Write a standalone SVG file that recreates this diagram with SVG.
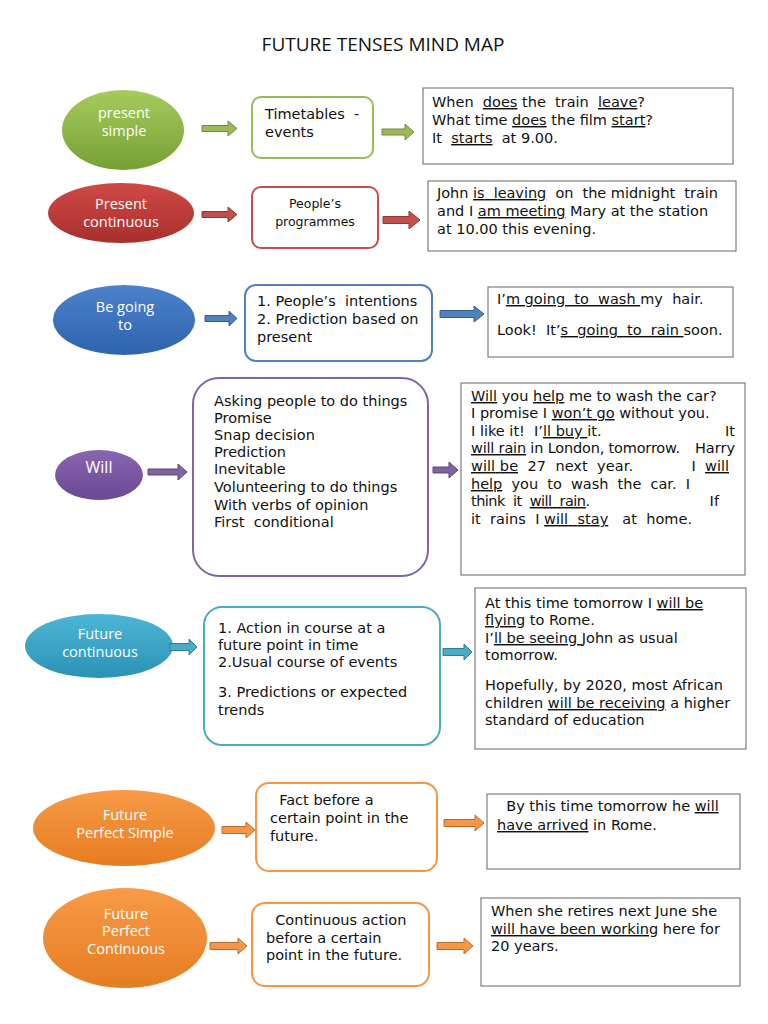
<svg xmlns="http://www.w3.org/2000/svg" width="768" height="1024" viewBox="0 0 768 1024">
<style>
.title{font-family:"Open Sans","Liberation Sans",sans-serif;font-size:19px;fill:#111}
.lab{font-family:"Open Sans","Liberation Sans",sans-serif;font-size:14.5px;fill:#fff}
.t{font-family:"DejaVu Sans","Liberation Sans",sans-serif;font-size:14.5px;fill:#111;white-space:pre}
.u{text-decoration:underline}
.box{fill:#fff;stroke-width:2}
.ex{fill:#fff;stroke:#666;stroke-width:1}
.ag{fill:#9bbb59;stroke:#71893f;stroke-width:1}
.ar{fill:#c0504d;stroke:#8c3836;stroke-width:1}
.ab{fill:#4f81bd;stroke:#385d8a;stroke-width:1}
.ap{fill:#8064a2;stroke:#5c4776;stroke-width:1}
.at{fill:#4bacc6;stroke:#357d91;stroke-width:1}
.ao{fill:#f79646;stroke:#b66d31;stroke-width:1}
</style>
<defs>
<linearGradient id="gG" x1="0" y1="0" x2="0" y2="1"><stop offset="0" stop-color="#a6cb5e"/><stop offset="1" stop-color="#76a034"/></linearGradient>
<linearGradient id="gR" x1="0" y1="0" x2="0" y2="1"><stop offset="0" stop-color="#cf4a46"/><stop offset="1" stop-color="#a82f2c"/></linearGradient>
<linearGradient id="gB" x1="0" y1="0" x2="0" y2="1"><stop offset="0" stop-color="#4c82cc"/><stop offset="1" stop-color="#2e64ad"/></linearGradient>
<linearGradient id="gP" x1="0" y1="0" x2="0" y2="1"><stop offset="0" stop-color="#8a64b0"/><stop offset="1" stop-color="#6a4a92"/></linearGradient>
<linearGradient id="gT" x1="0" y1="0" x2="0" y2="1"><stop offset="0" stop-color="#4db6d6"/><stop offset="1" stop-color="#2b92b6"/></linearGradient>
<linearGradient id="gO" x1="0" y1="0" x2="0" y2="1"><stop offset="0" stop-color="#f89a48"/><stop offset="1" stop-color="#e57d22"/></linearGradient>
</defs>
<rect width="768" height="1024" fill="#fff"/>
<text class="title" x="383" y="51" text-anchor="middle">FUTURE TENSES MIND MAP</text>

<!-- Row 1 -->
<g id="n-present-simple">
<ellipse cx="123" cy="130" rx="61" ry="40" fill="url(#gG)"/>
<text class="lab" x="124" y="118" text-anchor="middle">present</text>
<text class="lab" x="124" y="136" text-anchor="middle">simple</text>
</g>
<g id="n-timetables">
<rect class="box" x="252" y="97" width="121" height="61" rx="9" stroke="#9bbb59"/>
<text class="t" x="265" y="119">Timetables  -</text>
<text class="t" x="265" y="137">events</text>
</g>
<g id="n-ex1">
<rect class="ex" x="423" y="88" width="310" height="76"/>
<text class="t" x="432" y="107">When  <tspan class="u">does</tspan> the  train  <tspan class="u">leave</tspan>?</text>
<text class="t" x="432" y="125">What time <tspan class="u">does</tspan> the film <tspan class="u">start</tspan>?</text>
<text class="t" x="432" y="143">It  <tspan class="u">starts</tspan>  at 9.00.</text>
</g>

<!-- Row 2 -->
<g id="n-present-continuous">
<ellipse cx="121" cy="213" rx="73" ry="30" fill="url(#gR)"/>
<text class="lab" x="121" y="209" text-anchor="middle">Present</text>
<text class="lab" x="121" y="227" text-anchor="middle">continuous</text>
</g>
<g id="n-programmes">
<rect class="box" x="252" y="187" width="126" height="61" rx="9" stroke="#c0504d"/>
<text class="t" x="315" y="208" text-anchor="middle" style="font-size:12.5px">People’s</text>
<text class="t" x="315" y="226" text-anchor="middle" style="font-size:12.5px">programmes</text>
</g>
<g id="n-ex2">
<rect class="ex" x="428" y="181" width="308" height="70"/>
<text class="t" x="437" y="198" textLength="281" lengthAdjust="spacing">John <tspan class="u">is  leaving</tspan>  on  the midnight  train</text>
<text class="t" x="437" y="216">and I <tspan class="u">am meeting</tspan> Mary at the station</text>
<text class="t" x="437" y="234">at 10.00 this evening.</text>
</g>

<!-- Row 3 -->
<g id="n-be-going-to">
<ellipse cx="124" cy="320" rx="71" ry="35" fill="url(#gB)"/>
<text class="lab" x="125" y="312" text-anchor="middle">Be  going</text>
<text class="lab" x="125" y="330" text-anchor="middle">to</text>
</g>
<g id="n-intentions">
<rect class="box" x="245" y="285" width="187" height="76" rx="11" stroke="#4f81bd"/>
<text class="t" x="257" y="306">1. People’s  intentions</text>
<text class="t" x="257" y="324">2. Prediction based on</text>
<text class="t" x="257" y="342">present</text>
</g>
<g id="n-ex3">
<rect class="ex" x="488" y="287" width="245" height="70"/>
<text class="t" x="497" y="304">I’<tspan class="u">m going  to  wash </tspan>my  hair.</text>
<text class="t" x="497" y="335">Look!  It’<tspan class="u">s  going  to  rain </tspan>soon.</text>
</g>

<!-- Row 4 -->
<g id="n-will">
<ellipse cx="99" cy="475" rx="44" ry="25" fill="url(#gP)"/>
<text class="lab" x="99" y="473" text-anchor="middle" style="font-size:16px">Will</text>
</g>
<g id="n-will-uses">
<rect class="box" x="193" y="378" width="235" height="198" rx="26" stroke="#8064a2"/>
<text class="t" x="214" y="406">Asking people to do things</text>
<text class="t" x="214" y="423">Promise</text>
<text class="t" x="214" y="440">Snap decision</text>
<text class="t" x="214" y="457">Prediction</text>
<text class="t" x="214" y="474">Inevitable</text>
<text class="t" x="214" y="492">Volunteering to do things</text>
<text class="t" x="214" y="510">With verbs of opinion</text>
<text class="t" x="214" y="527">First  conditional</text>
</g>
<g id="n-ex4">
<rect class="ex" x="461" y="383" width="284" height="192"/>
<text class="t" x="471" y="401"><tspan class="u">Will</tspan> you <tspan class="u">help</tspan> me to wash the car?</text>
<text class="t" x="471" y="418">I promise I <tspan class="u">won’t go</tspan> without you.</text>
<text class="t" x="471" y="436">I like it!  I’<tspan class="u">ll buy </tspan>it.</text>
<text class="t" x="735" y="436" text-anchor="end">It</text>
<text class="t" x="471" y="453" textLength="209" lengthAdjust="spacing"><tspan class="u">will rain</tspan> in London, tomorrow.</text>
<text class="t" x="735" y="453" text-anchor="end">Harry</text>
<text class="t" x="471" y="471" textLength="162" lengthAdjust="spacing"><tspan class="u">will be</tspan>  27  next  year.</text>
<text class="t" x="729" y="471" text-anchor="end">I  <tspan class="u">will</tspan></text>
<text class="t" x="471" y="489" textLength="219" lengthAdjust="spacing"><tspan class="u">help</tspan>  you  to  wash  the  car.  I</text>
<text class="t" x="471" y="506" textLength="119" lengthAdjust="spacing">think  it  <tspan class="u">will  rain</tspan>.</text>
<text class="t" x="719" y="506" text-anchor="end">If</text>
<text class="t" x="471" y="524" textLength="221" lengthAdjust="spacing">it  rains  I <tspan class="u">will  stay</tspan>   at  home.</text>
</g>

<!-- Row 5 -->
<g id="n-future-continuous">
<ellipse cx="99" cy="646" rx="74" ry="32" fill="url(#gT)"/>
<text class="lab" x="100" y="639" text-anchor="middle">Future</text>
<text class="lab" x="100" y="657" text-anchor="middle">continuous</text>
</g>
<g id="n-fc-uses">
<rect class="box" x="204" y="607" width="236" height="138" rx="18" stroke="#4bacc6"/>
<text class="t" x="218" y="633">1. Action in course at a</text>
<text class="t" x="218" y="650">future point in time</text>
<text class="t" x="218" y="667">2.Usual course of events</text>
<text class="t" x="218" y="697">3. Predictions or expected</text>
<text class="t" x="218" y="715">trends</text>
</g>
<g id="n-ex5">
<rect class="ex" x="475" y="588" width="271" height="161"/>
<text class="t" x="485" y="608">At this time tomorrow I <tspan class="u">will be</tspan></text>
<text class="t" x="485" y="625"><tspan class="u">flying</tspan> to Rome.</text>
<text class="t" x="485" y="643">I’<tspan class="u">ll be seeing </tspan>John as usual</text>
<text class="t" x="485" y="660">tomorrow.</text>
<text class="t" x="485" y="690">Hopefully, by 2020, most African</text>
<text class="t" x="485" y="708">children <tspan class="u">will be receiving</tspan> a higher</text>
<text class="t" x="485" y="725">standard of education</text>
</g>

<!-- Row 6 -->
<g id="n-future-perfect-simple">
<ellipse cx="124" cy="828" rx="91" ry="38" fill="url(#gO)"/>
<text class="lab" x="125" y="820" text-anchor="middle">Future</text>
<text class="lab" x="125" y="838" text-anchor="middle">Perfect Simple</text>
</g>
<g id="n-fps-use">
<rect class="box" x="256" y="783" width="181" height="88" rx="13" stroke="#f79646"/>
<text class="t" x="270" y="805">  Fact before a</text>
<text class="t" x="270" y="823">certain point in the</text>
<text class="t" x="270" y="841">future.</text>
</g>
<g id="n-ex6">
<rect class="ex" x="487" y="794" width="253" height="75"/>
<text class="t" x="497" y="811">  By this time tomorrow he <tspan class="u">will</tspan></text>
<text class="t" x="497" y="830"><tspan class="u">have arrived</tspan> in Rome.</text>
</g>

<!-- Row 7 -->
<g id="n-future-perfect-continuous">
<ellipse cx="125" cy="938" rx="82" ry="50" fill="url(#gO)"/>
<text class="lab" x="126" y="919" text-anchor="middle">Future</text>
<text class="lab" x="126" y="936" text-anchor="middle">Perfect</text>
<text class="lab" x="126" y="954" text-anchor="middle">Continuous</text>
</g>
<g id="n-fpc-use">
<rect class="box" x="252" y="903" width="177" height="83" rx="13" stroke="#f79646"/>
<text class="t" x="266" y="925">  Continuous action</text>
<text class="t" x="266" y="943">before a certain</text>
<text class="t" x="266" y="960">point in the future.</text>
</g>
<g id="n-ex7">
<rect class="ex" x="481" y="898" width="259" height="88"/>
<text class="t" x="491" y="916">When she retires next June she</text>
<text class="t" x="491" y="934"><tspan class="u">will have been working</tspan> here for</text>
<text class="t" x="491" y="951">20 years.</text>
</g>

<!-- Connectors -->
<g id="connectors">
<path class="ag" d="M202,125.5 H228 V121 L237,128.5 L228,136 V131.5 H202 Z"/>
<path class="ag" d="M382,129 H405 V124 L414,132 L405,140 V135 H382 Z"/>
<path class="ar" d="M202,211.5 H228 V207 L237,214.5 L228,222 V217.5 H202 Z"/>
<path class="ar" d="M383,216.5 H409 V211 L420,220 L409,229 V223.5 H383 Z"/>
<path class="ab" d="M205,315.5 H229 V311 L237,318.5 L229,326 V321.5 H205 Z"/>
<path class="ab" d="M440,310.5 H474 V306 L484,314 L474,322 V317.5 H440 Z"/>
<path class="ap" d="M148,469 H178 V464 L187,472 L178,480 V475 H148 Z"/>
<path class="ap" d="M433,467 H449 V462 L458,470 L449,478 V473 H433 Z"/>
<path class="at" d="M170,643.5 H189 V639 L197,647 L189,655 V650.5 H170 Z"/>
<path class="at" d="M443,648.5 H464 V644 L472,652 L464,660 V655.5 H443 Z"/>
<path class="ao" d="M222,826.5 H246 V822 L255,830 L246,838 V833.5 H222 Z"/>
<path class="ao" d="M444,819.5 H475 V815 L484,823 L475,831 V826.5 H444 Z"/>
<path class="ao" d="M210,942.5 H238 V938 L247,946 L238,954 V949.5 H210 Z"/>
<path class="ao" d="M437,942.5 H464 V938 L473,946 L464,954 V949.5 H437 Z"/>
</g>
</svg>
